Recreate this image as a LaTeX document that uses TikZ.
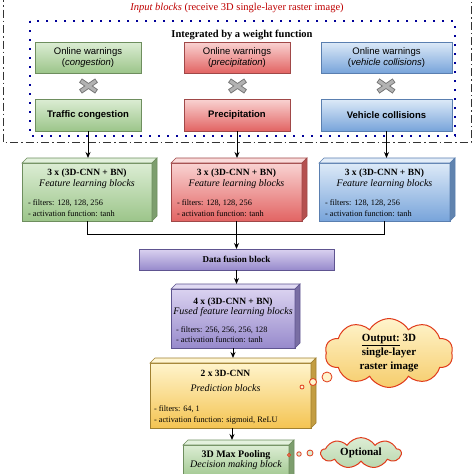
\documentclass[tikz,border=0pt]{standalone}
\usepackage{fontspec}
\setmainfont{Liberation Serif}
\setsansfont{Liberation Sans}
\usetikzlibrary{shapes.symbols,arrows.meta,calc}
\definecolor{gT}{HTML}{DCEDD4}\definecolor{gB}{HTML}{9CC58A}\definecolor{gD}{HTML}{6E8E5E}
\definecolor{rT}{HTML}{F9D3D2}\definecolor{rB}{HTML}{E26463}\definecolor{rD}{HTML}{A04848}
\definecolor{bT}{HTML}{DDEAF8}\definecolor{bB}{HTML}{78A4DA}\definecolor{bD}{HTML}{5A7FB0}
\definecolor{pT}{HTML}{DAD2F0}\definecolor{pB}{HTML}{978ACC}\definecolor{pD}{HTML}{5E5490}
\definecolor{yT}{HTML}{FFF4CC}\definecolor{yB}{HTML}{F4C452}\definecolor{yD}{HTML}{A08030}
\definecolor{cloudR}{HTML}{E03A1A}
\newcommand{\deco}[4]{%
  \filldraw[fill=#2, draw=#4, line width=0.6pt] (#1.north west) -- ++(5,-5) -- ($(#1.north east)+(5,-5)$) -- (#1.north east) -- cycle;
  \filldraw[fill=#3, draw=#4, line width=0.6pt] (#1.north east) -- ++(5,-5) -- ($(#1.south east)+(5,-5)$) -- (#1.south east) -- cycle;
}
\begin{document}
\begin{tikzpicture}[x=1pt,y=-1pt,
  every node/.style={inner sep=0pt, outer sep=0pt},
  arr/.style={-{Stealth[length=6pt,width=5pt]}, line width=1pt},
  ln/.style={line width=1pt},
  gbox/.style={draw=gD, line width=0.7pt, top color=gT, bottom color=gB},
  rbox/.style={draw=rD, line width=0.7pt, top color=rT, bottom color=rB},
  bbox/.style={draw=bD, line width=0.7pt, top color=bT, bottom color=bB},
  pbox/.style={draw=pD, line width=0.7pt, top color=pT, bottom color=pB},
  ybox/.style={draw=yD, line width=0.7pt, top color=yT, bottom color=yB},
  inbox/.style={minimum width=106pt, minimum height=31pt, align=center, font=\sffamily\fontsize{9.5}{11}\selectfont},
  inbold/.style={minimum width=106pt, minimum height=32pt, align=center, font=\sffamily\bfseries\fontsize{9.5}{11}\selectfont},
  ttl/.style={font=\bfseries\fontsize{9.5}{10}\selectfont},
  sub/.style={font=\itshape\fontsize{10}{11}\selectfont},
  det/.style={font=\fontsize{8.3}{9}\selectfont, anchor=west},
  bub/.style={circle, draw=cloudR, line width=0.8pt, fill=yT},
  gbub/.style={circle, draw=cloudR, line width=0.8pt, fill=gT},
]
\useasboundingbox (0,0) rectangle (474,474);
\fill[white] (0,0) rectangle (474,474);
% outer dash-dot frame
\draw[black!80, line width=1pt, dash pattern=on 8pt off 3pt on 1.5pt off 3pt] (3,-6) rectangle (471,142);
\node[text=red!75!black, font=\fontsize{10.5}{12}\selectfont] (title) at (237,8) {\textit{Input blocks} (receive 3D single-layer raster image)};
% blue dotted box
\draw[blue!60!black, line width=2pt, dash pattern=on 1.8pt off 7.2pt] (30,21) rectangle (455,136);
\node[font=\bfseries\fontsize{10.5}{12}\selectfont] (integ) at (242,35) {Integrated by a weight function};
% top boxes
\node[gbox, inbox] (ow1) at (88,57.5) {Online warnings\\(\textit{congestion})};
\node[rbox, inbox] (ow2) at (237,57.5) {Online warnings\\(\textit{precipitation})};
\node[bbox, inbox, minimum width=131pt] (ow3) at (386.5,57.5) {Online warnings\\(\textit{vehicle collisions})};
\node[gbox, inbold] (b1) at (88,115) {Traffic congestion};
\node[rbox, inbold] (b2) at (237,115) {Precipitation};
\node[bbox, inbold, minimum width=131pt] (b3) at (386.5,115) {Vehicle collisions};
% crosses
\foreach \n/\cx in {x1/88.5, x2/237.5, x3/386} {
  \node (\n) at (\cx,86) {};
  \draw[line width=5pt, draw=black!55] ($(\n)+(-8,-5.5)$) -- ($(\n)+(8,5.5)$) ($(\n)+(-8,5.5)$) -- ($(\n)+(8,-5.5)$);
  \draw[line width=3.2pt, draw=black!30] ($(\n)+(-7.3,-5)$) -- ($(\n)+(7.3,5)$) ($(\n)+(-7.3,5)$) -- ($(\n)+(7.3,-5)$);
}
% feature blocks
\node[gbox, minimum width=130pt, minimum height=58pt] (f1) at (87,192) {};
\node[rbox, minimum width=131pt, minimum height=58pt] (f2) at (236.5,192) {};
\node[bbox, minimum width=131pt, minimum height=58pt] (f3) at (384.5,192) {};
\deco{f1}{gT!80!white}{gB!80!black}{gD}
\deco{f2}{rT!80!white}{rB!80!black}{rD}
\deco{f3}{bT!80!white}{bB!80!black}{bD}
\foreach \f in {f1,f2,f3} {
  \node[ttl] (\f t) at ($(\f.north)+(0,10.5)$) {3 x (3D-CNN + BN)};
  \node[sub] (\f s) at ($(\f.north)+(0,21.5)$) {Feature learning blocks};
  \node[det] (\f a) at ($(\f.north west)+(6,40)$) {- filters: 128, 128, 256};
  \node[det] (\f b) at ($(\f.north west)+(6,51)$) {- activation function: tanh};
}
\foreach \b/\f in {b1/f1,b2/f2,b3/f3} {
  \coordinate (\f top) at ($(\f.north)+(0,-5)$);
  \draw[arr] (\b.south) -- (\b.south |- \f top);
}
% fusion
\node[pbox, minimum width=195pt, minimum height=21pt, font=\bfseries\fontsize{9}{10}\selectfont] (df) at (236.5,259.5) {Data fusion block};
\draw[ln] (f1.south) -- ++(0,13) -| (f3.south);
\draw[arr] (f2.south) -- (df.north);
% fused block
\node[pbox, minimum width=124pt, minimum height=59pt] (fu) at (233,318.5) {};
\deco{fu}{pT!80!white}{pB!80!black}{pD}
\node[ttl] (fut) at ($(fu.north)+(0,13)$) {4 x (3D-CNN + BN)};
\node[sub] (fus) at ($(fu.north)+(0,23)$) {Fused feature learning blocks};
\node[det] (fua) at ($(fu.north west)+(5,41)$) {- filters: 256, 256, 256, 128};
\node[det] (fub) at ($(fu.north west)+(5,51)$) {- activation function: tanh};
\coordinate (futop) at ($(fu.north)+(0,-5)$);
\draw[arr] (df.south) -- (df.south |- futop);
% prediction
\node[ybox, minimum width=161pt, minimum height=65pt] (pr) at (230.5,395.5) {};
\deco{pr}{yT!85!white}{yB!80!black}{yD}
\node[ttl] (prt) at ($(pr.north)+(-5,10)$) {2 x 3D-CNN};
\node[sub] (prs) at ($(pr.north)+(-5,25)$) {Prediction blocks};
\node[det] (pra) at ($(pr.north west)+(4,46)$) {- filters: 64, 1};
\node[det] (prb) at ($(pr.north west)+(4,57)$) {- activation function: sigmoid, ReLU};
\coordinate (prtop) at ($(fu.south)+(0,10)$);
\draw[arr] (fu.south) -- (prtop);
% max pooling
\node[gbox, minimum width=106pt, minimum height=35pt] (mp) at (236,462.5) {};
\deco{mp}{gT!80!white}{gB!80!black}{gD}
\node[ttl, font=\bfseries\fontsize{10}{11}\selectfont] (mpt) at ($(mp.north)+(0,10)$) {3D Max Pooling};
\node[sub] (mps) at ($(mp.north)+(0,20.5)$) {Decision making block};
\coordinate (mptop) at ($(pr.south)+(1.5,12)$);
\draw[arr] (pr.south -| mptop) -- (mptop);
% output cloud
\node[cloud, cloud puffs=10, cloud puff arc=120, aspect=1.9, draw=cloudR, line width=1pt, top color=yT, bottom color=yB!85!white, minimum width=128pt, minimum height=68pt, align=center, font=\bfseries\fontsize{11}{14}\selectfont] (oc) at (389,353) {\underline{Output:} 3D\\single-layer\\raster image};
\node[bub, minimum size=10pt] (c1) at (327,377) {};
\node[bub, minimum size=7pt] (c2) at (313,382) {};
\node[bub, minimum size=4pt] (c3) at (302,387) {};
% optional cloud
\node[cloud, cloud puffs=9, cloud puff arc=115, aspect=2.8, draw=cloudR, line width=1pt, top color=gT, bottom color=gB!70!white, minimum width=80pt, minimum height=28pt, font=\bfseries\fontsize{11}{12}\selectfont] (opt) at (361,453) {Optional};
\node[gbub, minimum size=6pt] (o1) at (310,453) {};
\node[gbub, minimum size=4.5pt] (o2) at (299,454) {};
\node[gbub, minimum size=3pt] (o3) at (289,455) {};
\end{tikzpicture}
\end{document}
